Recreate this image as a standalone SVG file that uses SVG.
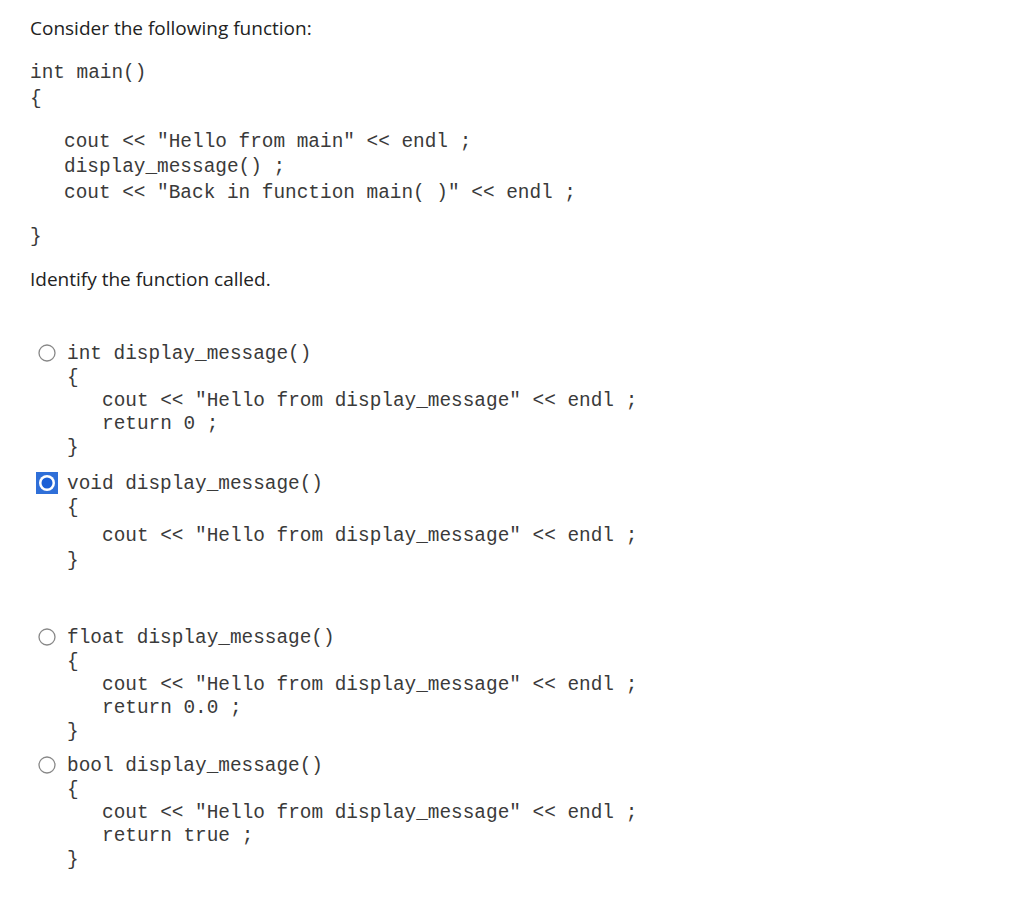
<svg xmlns="http://www.w3.org/2000/svg" width="1024" height="920" viewBox="0 0 1024 920">
<style>
.p{font-family:"Open Sans","Liberation Sans",sans-serif;font-size:19px;fill:#222}
.m{font-family:"Liberation Mono","Courier New",monospace;font-size:19.4px;fill:#3a3a3a}
.r{fill:#fff;stroke:#888;stroke-width:1.3}
</style>
<rect width="1024" height="920" fill="#fff"/>
<text class="p" x="30" y="35">Consider the following function:</text>
<text class="m" x="30" y="78">int main()</text>
<text class="m" x="30" y="104">{</text>
<text class="m" x="64" y="147">cout &lt;&lt; "Hello from main" &lt;&lt; endl ;</text>
<text class="m" x="64" y="172">display_message() ;</text>
<text class="m" x="64" y="198">cout &lt;&lt; "Back in function main( )" &lt;&lt; endl ;</text>
<text class="m" x="30" y="242">}</text>
<text class="p" x="30" y="286">Identify the function called.</text>

<g id="opt1">
<circle class="r" cx="47" cy="353" r="8"/>
<text class="m" x="67" y="359">int display_message()</text>
<text class="m" x="67" y="383">{</text>
<text class="m" x="102" y="406">cout &lt;&lt; "Hello from display_message" &lt;&lt; endl ;</text>
<text class="m" x="102" y="429">return 0 ;</text>
<text class="m" x="67" y="453">}</text>
</g>
<g id="opt2">
<rect x="36" y="472" width="22" height="22" fill="#2f6fd8"/>
<circle cx="47" cy="483" r="8" fill="#fff"/>
<circle cx="47" cy="483" r="5.5" fill="#1a5fd6"/>
<text class="m" x="67" y="489">void display_message()</text>
<text class="m" x="67" y="513">{</text>
<text class="m" x="102" y="541">cout &lt;&lt; "Hello from display_message" &lt;&lt; endl ;</text>
<text class="m" x="67" y="566">}</text>
</g>
<g id="opt3">
<circle class="r" cx="47" cy="637" r="8"/>
<text class="m" x="67" y="643">float display_message()</text>
<text class="m" x="67" y="667">{</text>
<text class="m" x="102" y="690">cout &lt;&lt; "Hello from display_message" &lt;&lt; endl ;</text>
<text class="m" x="102" y="713">return 0.0 ;</text>
<text class="m" x="67" y="737">}</text>
</g>
<g id="opt4">
<circle class="r" cx="47" cy="765" r="8"/>
<text class="m" x="67" y="771">bool display_message()</text>
<text class="m" x="67" y="795">{</text>
<text class="m" x="102" y="818">cout &lt;&lt; "Hello from display_message" &lt;&lt; endl ;</text>
<text class="m" x="102" y="841">return true ;</text>
<text class="m" x="67" y="865">}</text>
</g>
</svg>
